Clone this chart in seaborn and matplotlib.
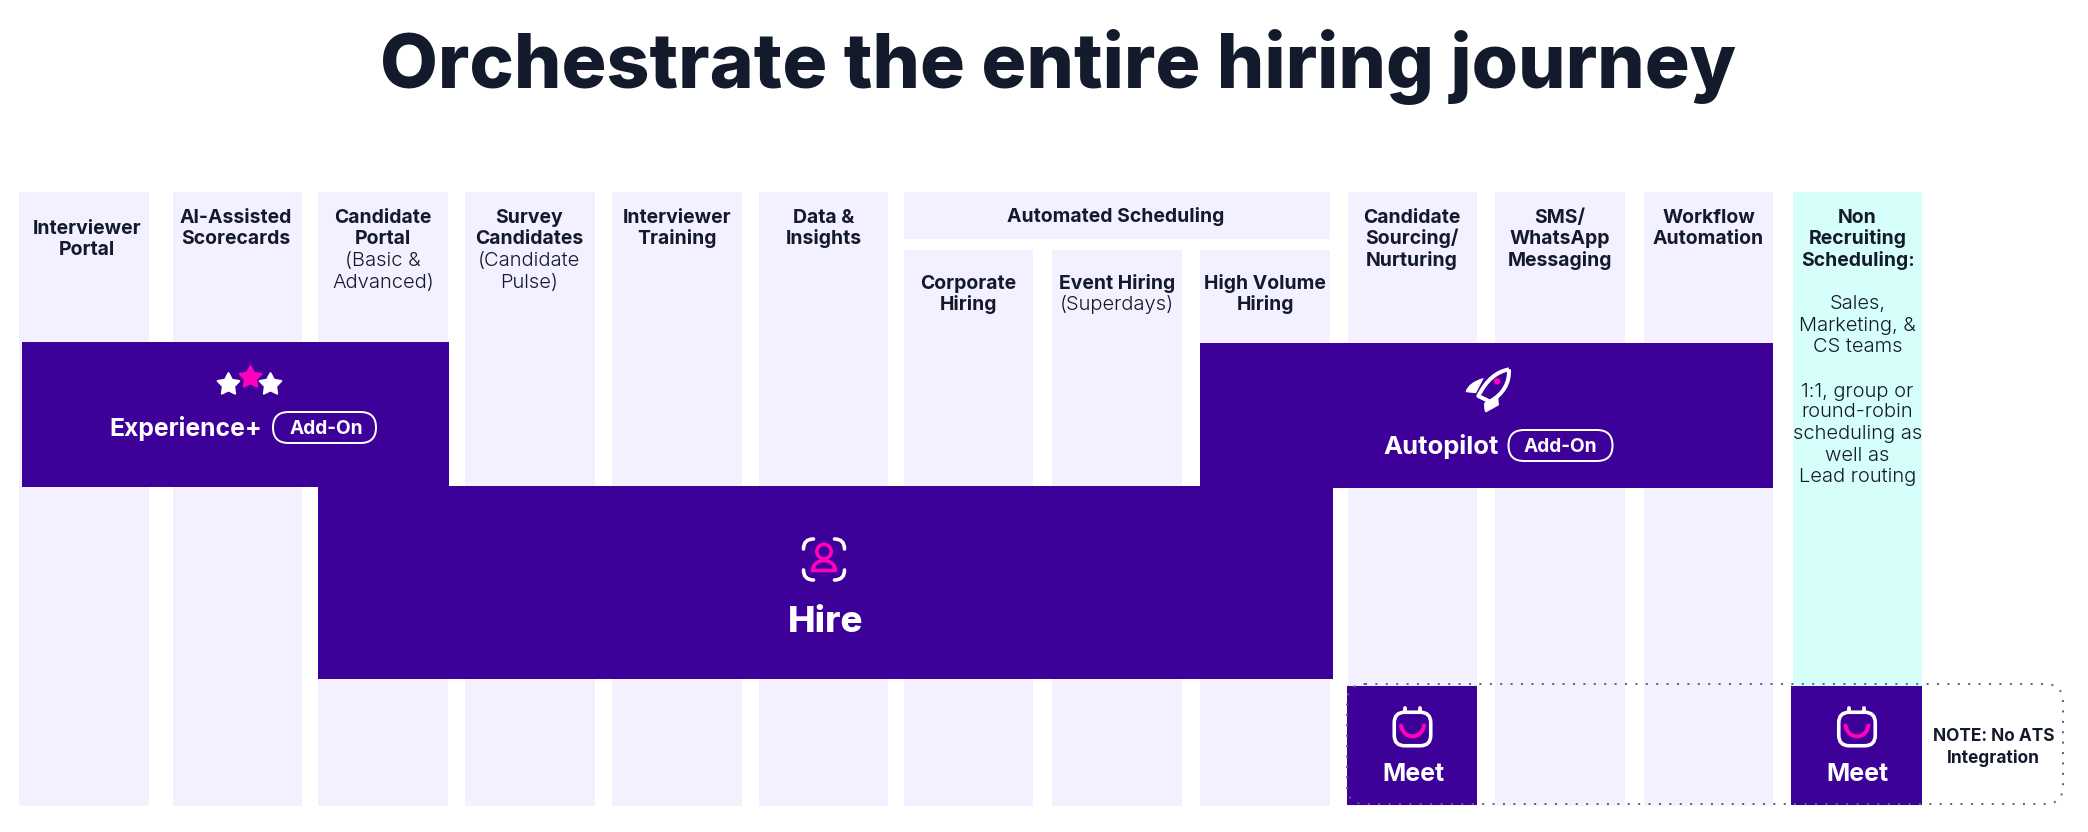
"""
plot.py
-------
Product map: pale feature columns with the Hire, Experience+, Autopilot and Meet
blocks on top. Axes run in image pixels, so the layout numbers read off directly.
"""

import matplotlib
matplotlib.use("Agg")
import matplotlib.pyplot as plt
from matplotlib.font_manager import FontProperties
from matplotlib.patches import Circle, FancyBboxPatch, PathPatch
from matplotlib.path import Path
from matplotlib.textpath import TextPath
import seaborn as sns

# ---------------------------------------------------------------------------
# Content
# ---------------------------------------------------------------------------
TITLE = "Orchestrate the entire hiring journey"

COLUMN_BOLD = [
    ["Interviewer", "Portal"],
    ["AI-Assisted", "Scorecards"],
    ["Candidate", "Portal"],
    ["Survey", "Candidates"],
    ["Interviewer", "Training"],
    ["Data &", "Insights"],
    ["Candidate", "Sourcing/", "Nurturing"],
    ["SMS/", "WhatsApp", "Messaging"],
    ["Workflow", "Automation"],
]
COLUMN_LIGHT = [
    [],
    [],
    ["(Basic &", "Advanced)"],
    ["(Candidate", "Pulse)"],
    [],
    [],
    [],
    [],
    [],
]

SCHEDULING_TITLE = "Automated Scheduling"
SUB_BOLD = [["Corporate", "Hiring"], ["Event Hiring"], ["High Volume", "Hiring"]]
SUB_LIGHT = [[], ["(Superdays)"], []]

NON_RECRUITING_BOLD = ["Non", "Recruiting", "Scheduling:"]
NON_RECRUITING_LIGHT = ["Sales,", "Marketing, &", "CS teams", "1:1, group or", "round-robin",
                        "scheduling as", "well as", "Lead routing"]
NOTE_LINES = ["NOTE: No ATS", "Integration"]
ADD_ON = "Add-On"

# ---------------------------------------------------------------------------
# Layout (pixels)
# ---------------------------------------------------------------------------
COLUMN_LEFT = [19, 173, 318, 465, 612, 759, 1348, 1495, 1644]
COLUMN_RIGHT = [149, 302, 448, 595, 742, 888, 1477, 1625, 1773]
COLUMN_TEXT_SHIFT = [3, -2, 0, -1, 0, 0, -1, 0, 0]
SUB_LEFT = [904, 1052, 1200]
SUB_RIGHT = [1033, 1182, 1330]
TEAL_LEFT, TEAL_RIGHT = 1793, 1922

TOP, BOTTOM = 192, 806
LINE_Y = [223, 244.5, 266, 288]
SUB_LINE_Y = [289, 310]
NON_LIGHT_Y = [309, 331, 352, 397, 417, 439, 461, 482]

PALE = "#F3F0FF"
TEAL = "#D6FFFB"
PURPLE = "#3D0098"
MAGENTA = "#FF00BF"
INK = "#131A2B"
WHITE = "#FFFFFF"

HEAVY = FontProperties(family="Inter", weight=800)
BOLD = FontProperties(family="Inter", weight=700)
LIGHT = FontProperties(family="Inter", weight=300)

PX = 0.72  # points per pixel at dpi=100


def fit_size(sample, width_px, prop):
    """Font size in points that makes sample come out width_px wide."""
    box = TextPath((0, 0), sample, size=100, prop=prop).get_extents()
    return 100 * width_px / box.width * PX


def block(ax, left, right, top, bottom, color):
    """One filled rectangle through seaborn, native scale keeps x in pixels."""
    sns.barplot(x=[(left + right) / 2], y=[bottom - top], bottom=top, width=right - left,
                native_scale=True, color=color, saturation=1, linewidth=0, errorbar=None, ax=ax)


def label(ax, x, y, text, prop, size, color=INK):
    ax.text(x, y, text, ha="center", va="baseline", fontproperties=prop, fontsize=size, color=color)


def pill(ax, left, right, top, bottom):
    radius = (bottom - top) / 2
    ax.add_patch(FancyBboxPatch((left + radius, top + radius), right - left - 2 * radius, 0,
                                boxstyle=f"round,pad={radius},rounding_size={radius}",
                                fc="none", ec=WHITE, lw=2 * PX, zorder=4))


def stroke(ax, verts, codes, color, width, zorder=4):
    ax.add_patch(PathPatch(Path(verts, codes), fc="none", ec=color, lw=width * PX,
                           capstyle="round", joinstyle="round", zorder=zorder))


def star_icons(ax, xs, ys, color):
    star = Path.unit_regular_star(5, innerCircle=0.52)
    ax.scatter(xs, ys, marker=star, s=265, color=color, linewidth=1.5, edgecolor=color, zorder=4)


def calendar_icon(ax, cx, cy):
    ax.add_patch(FancyBboxPatch((cx - 10, cy - 8.5), 20, 17, boxstyle="round,pad=8.25,rounding_size=10.5",
                                fc="none", ec=WHITE, lw=3.6 * PX, zorder=4))
    for dx in (-8, 7):
        ax.plot([cx + dx, cx + dx], [cy - 21, cy - 17], color=WHITE, lw=3.8 * PX,
                solid_capstyle="round", zorder=4)
    stroke(ax, [(cx - 11.5, cy - 3.5), (cx - 9, cy + 11), (cx + 9, cy + 11), (cx + 11.5, cy - 3.5)],
           [Path.MOVETO, Path.CURVE4, Path.CURVE4, Path.CURVE4], MAGENTA, 4)


def person_icon(ax, cx, cy):
    r = 20.5
    arm = 10
    for sx, sy in [(-1, -1), (1, -1), (-1, 1), (1, 1)]:
        stroke(ax, [(cx + sx * r, cy + sy * (r - arm)), (cx + sx * r, cy + sy * r), (cx + sx * (r - arm), cy + sy * r)],
               [Path.MOVETO, Path.CURVE3, Path.CURVE3], WHITE, 3.6)
    ax.add_patch(Circle((cx, cy - 8), 7.2, fc="none", ec=MAGENTA, lw=3.6 * PX, zorder=4))
    stroke(ax, [(cx - 11.5, cy + 11), (cx - 11, cy + 2), (cx, cy + 1), (cx + 11, cy + 2), (cx + 11.5, cy + 11),
                (cx - 11.5, cy + 11)],
           [Path.MOVETO, Path.CURVE3, Path.CURVE3, Path.CURVE3, Path.CURVE3, Path.LINETO], MAGENTA, 3.6)


def rocket_icon(ax, x0, y0):
    # traced in 1/3 px units from a crop of the icon
    def at(points):
        return [(x0 + px / 3, y0 + py / 3) for px, py in points]

    c3, mv, ln = Path.CURVE3, Path.MOVETO, Path.LINETO
    body = [(162, 28), (105, 38), (70, 108), (105, 125), (165, 90), (162, 28)]
    ax.add_patch(PathPatch(Path(at(body), [mv, c3, c3, ln, c3, c3]), fc=PURPLE, ec=WHITE, lw=4 * PX,
                           joinstyle="round", zorder=4))
    left_fin = [(33, 95), (42, 68), (84, 56), (62, 98), (33, 95)]
    ax.add_patch(PathPatch(Path(at(left_fin), [mv, c3, ln, ln, ln]), fc=WHITE, ec=WHITE, lw=1 * PX,
                           joinstyle="round", zorder=4))
    low_fin = [(92, 156), (86, 140), (90, 128), (128, 108), (130, 135), (92, 156)]
    ax.add_patch(PathPatch(Path(at(low_fin), [mv, c3, c3, ln, ln, ln]), fc=WHITE, ec=WHITE, lw=1 * PX,
                           joinstyle="round", zorder=4))
    dot_x, dot_y = at([(126, 64)])[0]
    ax.add_patch(Circle((dot_x, dot_y), 3.2, fc=MAGENTA, ec="none", zorder=5))


def main():
    sns.set_theme(style="white")
    fig = plt.figure(figsize=(20.88, 8.32), dpi=100)
    ax = fig.add_axes([0, 0, 1, 1])

    head = fit_size("Interviewer", 107, BOLD)
    thin = fit_size("Advanced)", 99, LIGHT)
    head_big = fit_size("Experience+", 149, BOLD)
    tag = fit_size(ADD_ON, 72, BOLD)

    # ---- pale columns ----
    for left, right in zip(COLUMN_LEFT, COLUMN_RIGHT):
        block(ax, left, right, TOP, BOTTOM, PALE)
    block(ax, SUB_LEFT[0], SUB_RIGHT[-1], TOP, 239, PALE)
    for left, right in zip(SUB_LEFT, SUB_RIGHT):
        block(ax, left, right, 250, BOTTOM, PALE)
    block(ax, TEAL_LEFT, TEAL_RIGHT, TOP, BOTTOM, TEAL)

    # ---- column labels ----
    for i, (left, right) in enumerate(zip(COLUMN_LEFT, COLUMN_RIGHT)):
        cx = (left + right) / 2 + COLUMN_TEXT_SHIFT[i]
        ys = [234, 255] if i == 0 else LINE_Y
        n_bold = len(COLUMN_BOLD[i])
        for text, y in zip(COLUMN_BOLD[i], ys):
            label(ax, cx, y, text, BOLD, head)
        for text, y in zip(COLUMN_LIGHT[i], ys[n_bold:]):
            label(ax, cx, y, text, LIGHT, thin)

    label(ax, (SUB_LEFT[0] + SUB_RIGHT[-1]) / 2 - 1, 222, SCHEDULING_TITLE, BOLD, head)
    for i, (left, right) in enumerate(zip(SUB_LEFT, SUB_RIGHT)):
        cx = (left + right) / 2
        for text, y in zip(SUB_BOLD[i], SUB_LINE_Y):
            label(ax, cx, y, text, BOLD, head)
        for text, y in zip(SUB_LIGHT[i], SUB_LINE_Y[len(SUB_BOLD[i]):]):
            label(ax, cx, y, text, LIGHT, thin)

    teal_x = (TEAL_LEFT + TEAL_RIGHT) / 2
    for text, y in zip(NON_RECRUITING_BOLD, LINE_Y):
        label(ax, teal_x, y, text, BOLD, head)
    for text, y in zip(NON_RECRUITING_LIGHT, NON_LIGHT_Y):
        label(ax, teal_x, y, text, LIGHT, thin)

    # ---- product blocks ----
    block(ax, 22, 449, 342, 487, PURPLE)
    block(ax, 318, 1333, 486, 679, PURPLE)
    block(ax, 1200, 1773, 343, 488, PURPLE)
    block(ax, 1347, 1477, 686, 805, PURPLE)
    block(ax, 1791, 1922, 686, 805, PURPLE)

    # Experience+
    star_icons(ax, [228, 270], [384, 384], WHITE)
    star_icons(ax, [250], [376.5], MAGENTA)
    label(ax, 185.5, 436, "Experience+", BOLD, head_big, WHITE)
    pill(ax, 273, 376, 412, 443)
    label(ax, 326, 434, ADD_ON, BOLD, tag, WHITE)

    # Autopilot
    rocket_icon(ax, 1455, 360)
    label(ax, 1441, 454, "Autopilot", BOLD, fit_size("Autopilot", 114, BOLD), WHITE)
    pill(ax, 1508.5, 1612.5, 430, 461)
    label(ax, 1560, 452, ADD_ON, BOLD, tag, WHITE)

    # Hire
    person_icon(ax, 824, 559.5)
    label(ax, 826, 632, "Hire", HEAVY, fit_size("Hire", 72, HEAVY), WHITE)

    # Meet, plus the dotted frame round the non ATS pair
    meet = fit_size("Meet", 60, BOLD)
    calendar_icon(ax, 1412.5, 729)
    label(ax, 1413, 781, "Meet", BOLD, meet, WHITE)
    calendar_icon(ax, 1857, 729)
    label(ax, 1858, 781, "Meet", BOLD, meet, WHITE)
    ax.add_patch(FancyBboxPatch((1365, 702), 680, 84, boxstyle="round,pad=18,rounding_size=18",
                                fc="none", ec="#5F6470", lw=2 * PX, ls=(0, (1, 4.2)), zorder=5))
    for text, y in zip(NOTE_LINES, [741, 763]):
        label(ax, 1993.5, y, text, BOLD, fit_size(NOTE_LINES[0], 120, BOLD))

    ax.text(1058, 88, TITLE, ha="center", va="baseline", fontproperties=HEAVY,
            fontsize=fit_size(TITLE, 1352, HEAVY), color=INK)

    ax.set_xlim(0, 2088)
    ax.set_ylim(832, 0)
    ax.axis("off")
    fig.savefig("out.png", dpi=100)


if __name__ == "__main__":
    main()
